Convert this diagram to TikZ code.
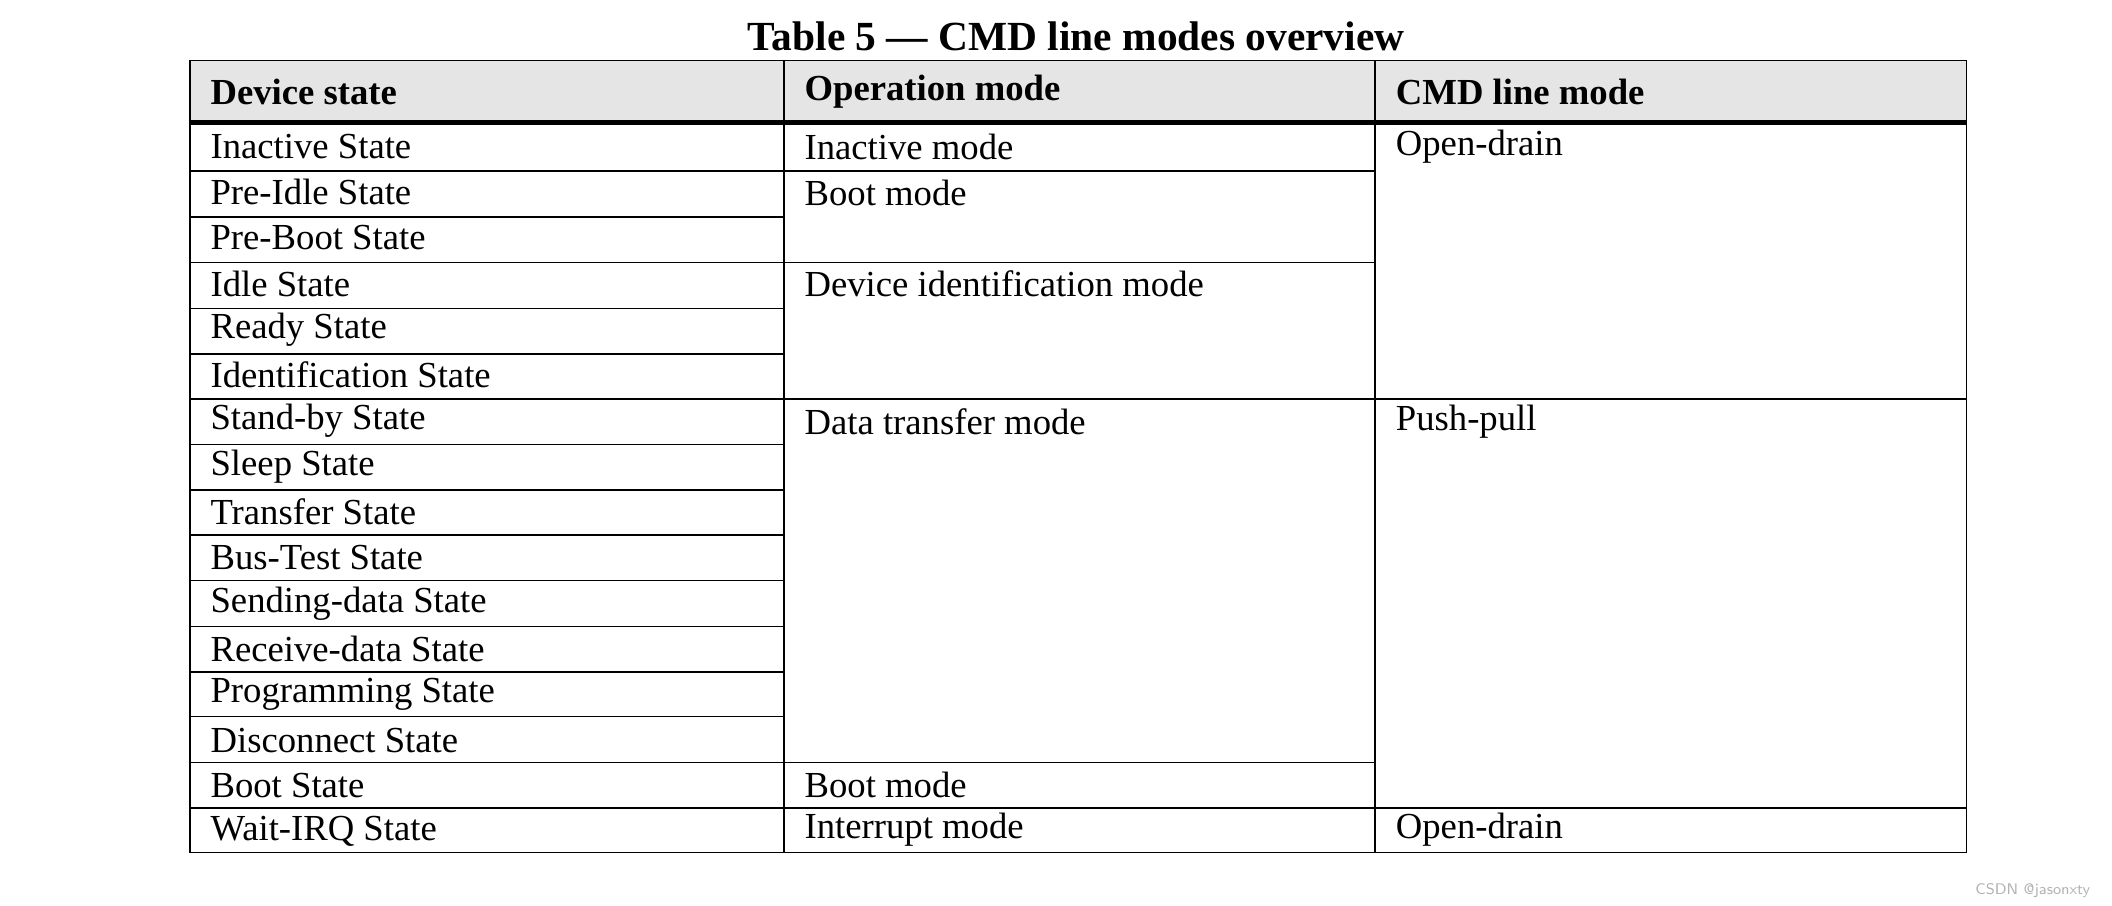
\documentclass[tikz,border=0pt]{standalone}
\usepackage{fontspec}
\setmainfont{Liberation Serif}
\begin{document}
\begin{tikzpicture}[x=0.02cm,y=-0.02cm,
  cell/.style={anchor=west,inner sep=0pt,font=\fontsize{15.5}{18}\selectfont},
  head/.style={cell,font=\fontsize{15.5}{18}\selectfont\bfseries},
  grid/.style={line width=0.7pt}]
\useasboundingbox (0,0) rectangle (1568,672.6);
\fill[gray!20] (141,45) rectangle (1460,91);
\node[font=\fontsize{17.5}{20}\selectfont\bfseries] (title) at (799,27) {Table 5 — CMD line modes overview};
\node[head] (h1) at (156,68) {Device state};
\node[head] (h2) at (597,68) {Operation mode};
\node[head] (h3) at (1036,68) {CMD line mode};
\draw[grid] (141,45) rectangle (1460,633);
\draw[grid] (141,45) -- (1460,45);
\draw[line width=2pt] (141,91) -- (1460,91);
\draw[grid] (582,45) -- (582,633) (1021,45) -- (1021,633);
\foreach \y in {127,161,195,229,263,296,330,364,397,431,465,499,532,566,600}
  \draw[grid] (141,\y) -- (582,\y);
\foreach \y in {127,195,566} \draw[grid] (582,\y) -- (1021,\y);
\foreach \y in {296,600} \draw[grid] (582,\y) -- (1460,\y);
\foreach \t [count=\i] in {Inactive State,Pre-Idle State,Pre-Boot State,Idle State,Ready State,Identification State,Stand-by State,Sleep State,Transfer State,Bus-Test State,Sending-data State,Receive-data State,Programming State,Disconnect State,Boot State,Wait-IRQ State}
  \node[cell] (s\i) at (156,{75+\i*33.9}) {\t};
\node[cell] (o1) at (597,109) {Inactive mode};
\node[cell] (o2) at (597,143) {Boot mode};
\node[cell] (o3) at (597,211) {Device identification mode};
\node[cell] (o4) at (597,313) {Data transfer mode};
\node[cell] (o5) at (597,583) {Boot mode};
\node[cell] (o6) at (597,616) {Interrupt mode};
\node[cell] (c1) at (1036,109) {Open-drain};
\node[cell] (c2) at (1036,313) {Push-pull};
\node[cell] (c3) at (1036,616) {Open-drain};
\node[anchor=east,text=gray!60,font=\sffamily\fontsize{6.5}{8}\selectfont] (wm) at (1558,661) {CSDN @jasonxty};
\end{tikzpicture}
\end{document}
